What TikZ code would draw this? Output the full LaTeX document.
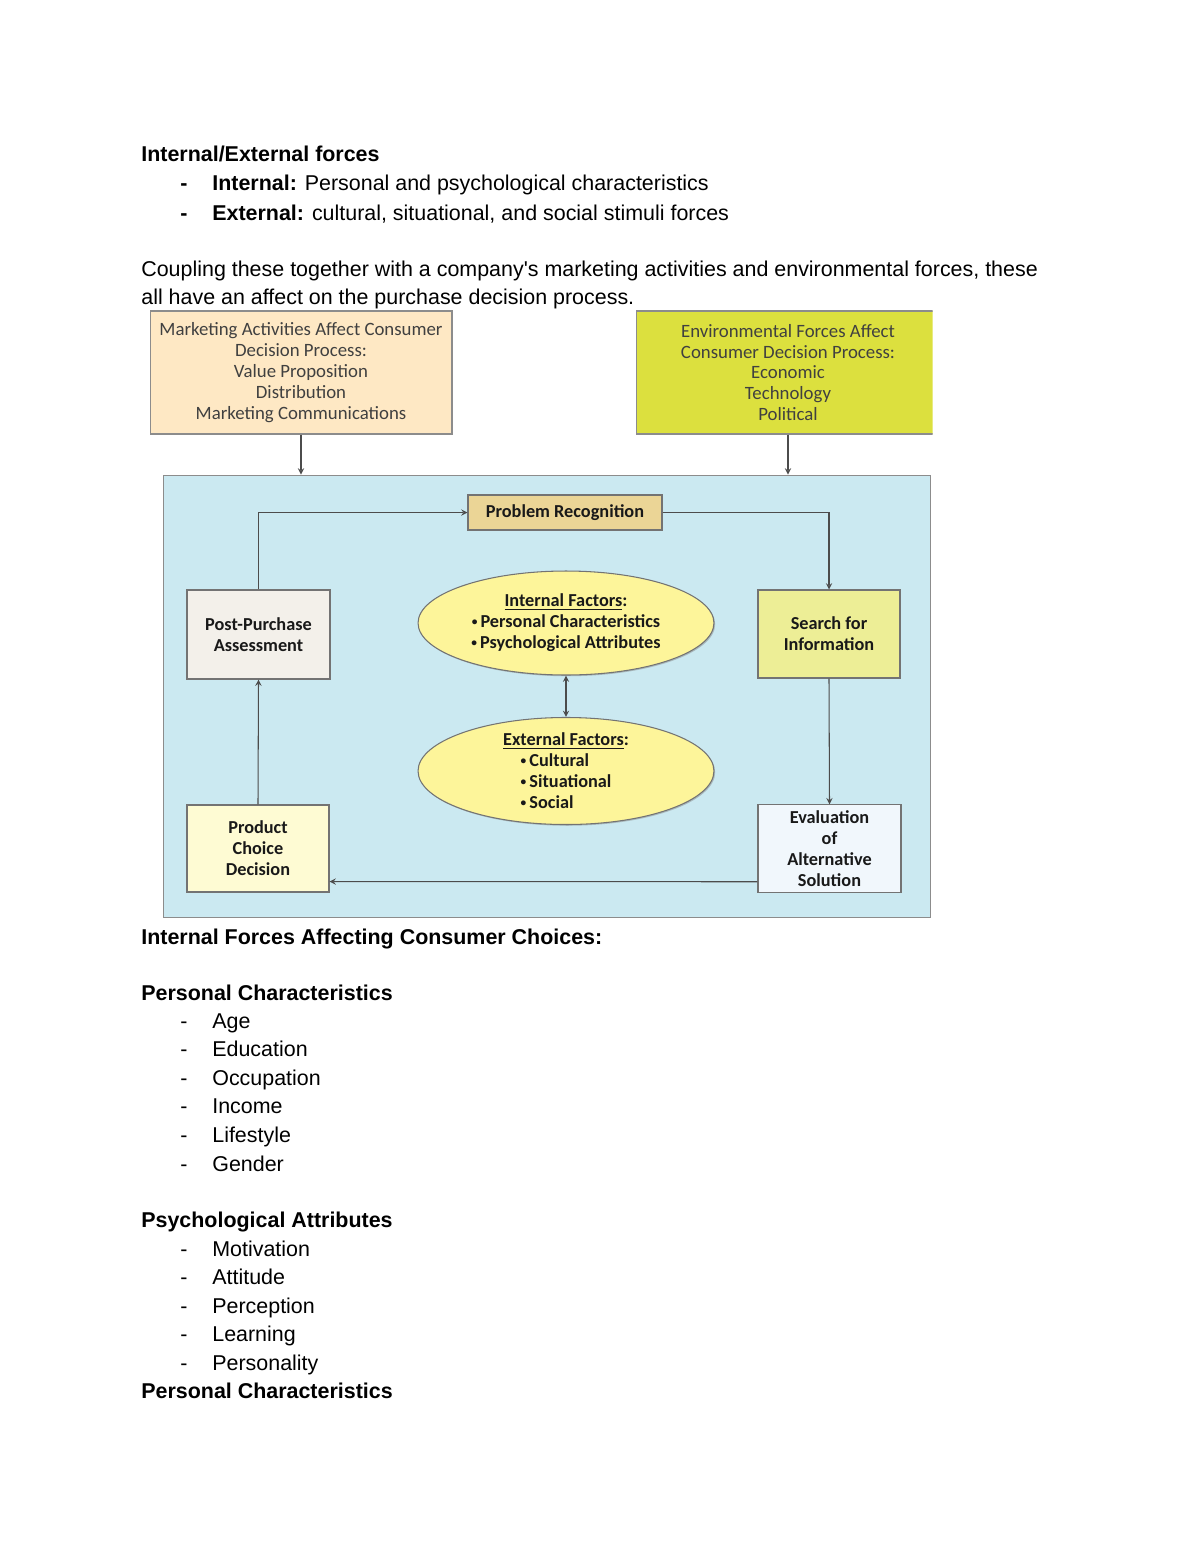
\documentclass[tikz,border=0pt]{standalone}
\usepackage{fontspec}
\setmainfont{Liberation Sans}
\newfontfamily\diagfont{Carlito}
\usetikzlibrary{positioning,shapes.geometric,shadows}

\definecolor{mktfill}{HTML}{FEE8C4}
\definecolor{envfill}{HTML}{DCE03E}
\definecolor{panelfill}{HTML}{CBE9F1}
\definecolor{probfill}{HTML}{EBD596}
\definecolor{postfill}{HTML}{F3F0EA}
\definecolor{searchfill}{HTML}{EDEE96}
\definecolor{prodfill}{HTML}{FEFBD3}
\definecolor{evalfill}{HTML}{F1F7FC}
\definecolor{factorfill}{HTML}{FDF59A}

\newcommand{\fbul}{{\fontsize{6.5}{6.5}\selectfont\raisebox{1.2pt}{•}}\,}

\begin{document}
\begin{tikzpicture}[x=0.02cm, y=-0.02cm, >=stealth,
    txt/.style={anchor=base west, inner sep=0pt, font=\fontsize{12.2}{14}\selectfont},
    head/.style={txt, font=\fontsize{12.2}{14}\selectfont\bfseries},
    topbox/.style={draw=black!45, line width=0.6pt, align=center, text=black!75,
      font=\diagfont\fontsize{10.7}{11.9}\selectfont},
    stepbox/.style={draw=black!55, line width=0.6pt, align=center, text=black!90,
      font=\diagfont\bfseries\fontsize{10.4}{11.9}\selectfont,
      drop shadow={shadow xshift=0.7pt, shadow yshift=-0.7pt, opacity=0.55}},
    factor/.style={ellipse, draw=black!55, fill=factorfill, line width=0.6pt,
      minimum width=5.92cm, minimum height=2.08cm, inner sep=0pt, text=black!90,
      font=\diagfont\bfseries\fontsize{10.4}{11.9}\selectfont,
      drop shadow={shadow xshift=0.7pt, shadow yshift=-0.7pt, opacity=0.45}},
    link/.style={draw=black!70, line width=0.6pt, ->}
  ]
  \pgfmathsetmacro{\dashx}{180};
  \pgfmathsetmacro{\itemx}{212};

  \useasboundingbox (0,0) rectangle (1200,1553);

  % text above the diagram
  \node[head] (title) at (141,161) {Internal/External forces};
  \node[head] (dint) at (\dashx,190) {-};
  \node[txt] (int) at (\itemx,190) {\textbf{Internal:} Personal and psychological characteristics};
  \node[head] (dext) at (\dashx,220) {-};
  \node[txt] (ext) at (\itemx,220) {\textbf{External:} cultural, situational, and social stimuli forces};
  \node[txt] (par1) at (141,276) {Coupling these together with a company\textquotesingle s marketing activities and environmental forces, these};
  \node[txt] (par2) at (141,304) {all have an affect on the purchase decision process.};

  % the diagram
  \node[topbox, fill=mktfill, minimum width=6.04cm, minimum height=2.46cm] (mkt) at (301,372.5)
  {Marketing Activities Affect Consumer\\Decision Process:\\Value Proposition\\Distribution\\Marketing Communications};
  \begin{scope}
    \clip (0,0) rectangle (932.5,1553);
    \node[topbox, fill=envfill, minimum width=6.08cm, minimum height=2.46cm] (env) at (788,372.5)
    {Environmental Forces Affect\\Consumer Decision Process:\\Economic\\Technology\\Political};
  \end{scope}

  \node[draw=black!45, fill=panelfill, line width=0.6pt, minimum width=15.36cm, minimum height=8.86cm] (panel) at (547,696.5) {};

  \draw[link] (mkt.south) -- (mkt.south |- panel.north);
  \draw[link] (env.south) -- (env.south |- panel.north);

  \node[stepbox, fill=probfill, minimum width=3.88cm, minimum height=0.7cm] (prob) at (565,512.5) {Problem Recognition};
  \node[stepbox, fill=postfill, minimum width=2.86cm, minimum height=1.78cm] (post) at (258.5,634.5) {Post-Purchase\\Assessment};
  \node[stepbox, fill=searchfill, minimum width=2.84cm, minimum height=1.76cm] (search) at (829,634) {Search for\\Information};
  \node[stepbox, fill=prodfill, minimum width=2.84cm, minimum height=1.74cm] (prod) at (258,848.5) {Product\\Choice\\Decision};
  \node[stepbox, fill=evalfill, minimum width=2.86cm, minimum height=1.74cm] (eval) at (829.5,848.5) {Evaluation\\of\\Alternative\\Solution};

  \node[factor, align=center] (intf) at (566,623)
  {\underline{Internal Factors}:\\\fbul Personal Characteristics\\\fbul Psychological Attributes};
  \node[factor, align=left] (extf) at (566,771)
  {\underline{External Factors}:\\\hspace*{10pt}\fbul Cultural\\\hspace*{10pt}\fbul Situational\\\hspace*{10pt}\fbul Social};

  \draw[link] (post.north) |- (prob.west);
  \draw[link] (prob.east) -| (search.north);
  \draw[link] (search.south) -- (eval.north);
  \draw[link] ([yshift=0.22cm]eval.south west) -- ([yshift=0.22cm]prod.south east);
  \draw[link] (prod.north) -- (post.south);
  \draw[link, <->] (intf.south) -- (extf.north);

  % text below the diagram
  \node[head] (forces) at (141,944) {Internal Forces Affecting Consumer Choices:};
  \node[head] (pers) at (141,1000) {Personal Characteristics};
  \foreach \name [count=\i from 0] in {Age,Education,Occupation,Income,Lifestyle,Gender} {
    \node[txt] (pdash\i) at (\dashx,1028+28.6*\i) {-};
    \node[txt] (pitem\i) at (\itemx,1028+28.6*\i) {\name};
  }
  \node[head] (psych) at (141,1227) {Psychological Attributes};
  \foreach \name [count=\i from 0] in {Motivation,Attitude,Perception,Learning,Personality} {
    \node[txt] (sdash\i) at (\dashx,1256+28.6*\i) {-};
    \node[txt] (sitem\i) at (\itemx,1256+28.6*\i) {\name};
  }
  \node[head] (pers2) at (141,1398) {Personal Characteristics};

  % \draw[help lines] (0,0) grid (1200,1553);
\end{tikzpicture}
\end{document}
